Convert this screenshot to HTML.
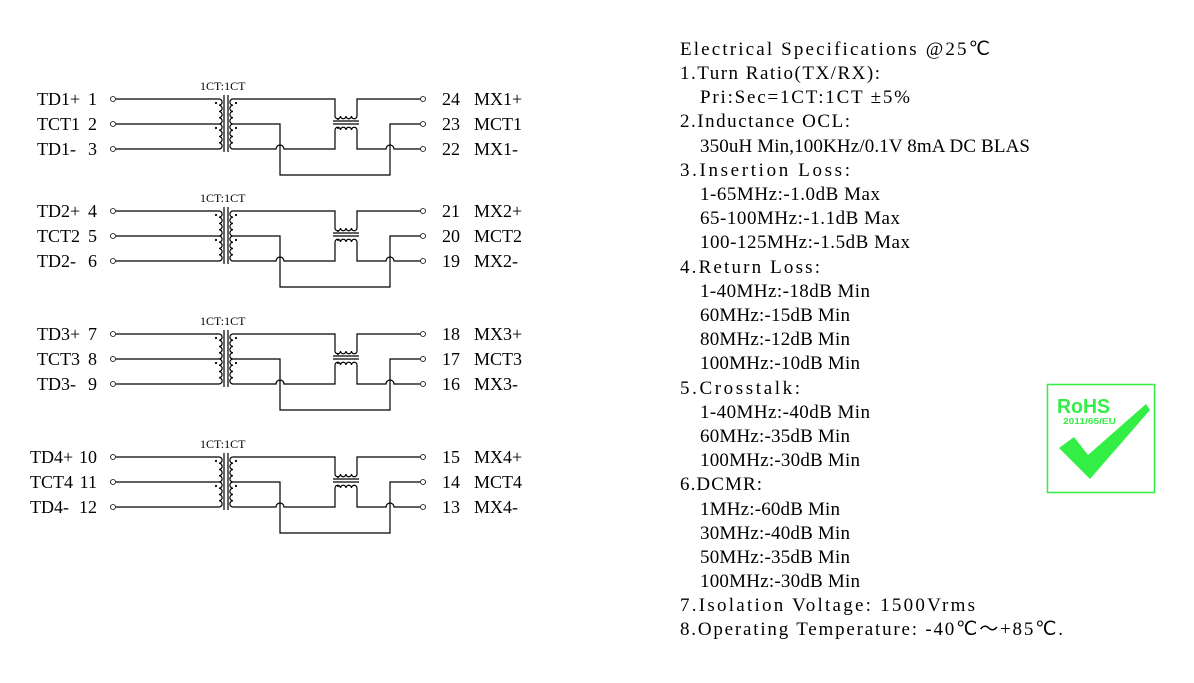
<!DOCTYPE html>
<html><head><meta charset="utf-8"><style>html,body{margin:0;padding:0;background:#fff}svg{display:block}</style></head>
<body>
<svg width="1194" height="683" viewBox="0 0 1194 683" xmlns="http://www.w3.org/2000/svg">
<defs>
<g id="blk" fill="none" stroke="#000" stroke-width="1.2">
  <circle cx="113" cy="0" r="2.5" stroke-width="0.8"/>
  <circle cx="113" cy="25" r="2.5" stroke-width="0.8"/>
  <circle cx="113" cy="50" r="2.5" stroke-width="0.8"/>
  <circle cx="423" cy="0" r="2.5" stroke-width="0.8"/>
  <circle cx="423" cy="25" r="2.5" stroke-width="0.8"/>
  <circle cx="423" cy="50" r="2.5" stroke-width="0.8"/>
  <path d="M116,0H219M116,25H219M116,50H219"/>
  <path d="M219,0 a3.125,3.125 0 0 1 0,6.25 a3.125,3.125 0 0 1 0,6.25 a3.125,3.125 0 0 1 0,6.25 a3.125,3.125 0 0 1 0,6.25 a3.125,3.125 0 0 1 0,6.25 a3.125,3.125 0 0 1 0,6.25 a3.125,3.125 0 0 1 0,6.25 a3.125,3.125 0 0 1 0,6.25"/>
  <path d="M224,-4V53M228,-4V53"/>
  <path d="M233,0 a3.125,3.125 0 0 0 0,6.25 a3.125,3.125 0 0 0 0,6.25 a3.125,3.125 0 0 0 0,6.25 a3.125,3.125 0 0 0 0,6.25 a3.125,3.125 0 0 0 0,6.25 a3.125,3.125 0 0 0 0,6.25 a3.125,3.125 0 0 0 0,6.25 a3.125,3.125 0 0 0 0,6.25"/>
  <path d="M233,0H335V17 a2.75,2.75 0 0 0 5.5,0 a2.75,2.75 0 0 0 5.5,0 a2.75,2.75 0 0 0 5.5,0 a2.75,2.75 0 0 0 5.5,0 V0H420"/>
  <path d="M333,22H359M333,25H359"/>
  <path d="M233,50H276 a4,4 0 0 1 8,0 H335V31 a2.75,2.75 0 0 1 5.5,0 a2.75,2.75 0 0 1 5.5,0 a2.75,2.75 0 0 1 5.5,0 a2.75,2.75 0 0 1 5.5,0 V50H386 a4,4 0 0 1 8,0 H420"/>
  <path d="M233,25H280V76H390V25H420"/>
  <g fill="#000" stroke="none">
    <circle cx="216" cy="4" r="1.1"/><circle cx="236" cy="4" r="1.1"/>
    <circle cx="216" cy="29" r="1.1"/><circle cx="236" cy="29" r="1.1"/>
    <circle cx="338" cy="20" r="1"/><circle cx="338" cy="29" r="1"/>
  </g>
</g>
</defs>
<use href="#blk" y="99"/>
<use href="#blk" y="211"/>
<use href="#blk" y="334"/>
<use href="#blk" y="457"/>
<g font-family="Liberation Serif, serif" fill="#000">
  <g font-size="12"><text x="200" y="90">1CT:1CT</text><text x="200" y="202">1CT:1CT</text><text x="200" y="325">1CT:1CT</text><text x="200" y="448">1CT:1CT</text></g>
  <g font-size="18">
    <text x="37" y="105">TD1+</text><text x="97" y="105" text-anchor="end">1</text>
    <text x="37" y="130">TCT1</text><text x="97" y="130" text-anchor="end">2</text>
    <text x="37" y="155">TD1-</text><text x="97" y="155" text-anchor="end">3</text>
    <text x="37" y="217">TD2+</text><text x="97" y="217" text-anchor="end">4</text>
    <text x="37" y="242">TCT2</text><text x="97" y="242" text-anchor="end">5</text>
    <text x="37" y="267">TD2-</text><text x="97" y="267" text-anchor="end">6</text>
    <text x="37" y="340">TD3+</text><text x="97" y="340" text-anchor="end">7</text>
    <text x="37" y="365">TCT3</text><text x="97" y="365" text-anchor="end">8</text>
    <text x="37" y="390">TD3-</text><text x="97" y="390" text-anchor="end">9</text>
    <text x="30" y="463">TD4+</text><text x="97" y="463" text-anchor="end">10</text>
    <text x="30" y="488">TCT4</text><text x="97" y="488" text-anchor="end">11</text>
    <text x="30" y="513">TD4-</text><text x="97" y="513" text-anchor="end">12</text>
    <text x="442" y="105">24</text><text x="474" y="105">MX1+</text>
    <text x="442" y="130">23</text><text x="474" y="130">MCT1</text>
    <text x="442" y="155">22</text><text x="474" y="155">MX1-</text>
    <text x="442" y="217">21</text><text x="474" y="217">MX2+</text>
    <text x="442" y="242">20</text><text x="474" y="242">MCT2</text>
    <text x="442" y="267">19</text><text x="474" y="267">MX2-</text>
    <text x="442" y="340">18</text><text x="474" y="340">MX3+</text>
    <text x="442" y="365">17</text><text x="474" y="365">MCT3</text>
    <text x="442" y="390">16</text><text x="474" y="390">MX3-</text>
    <text x="442" y="463">15</text><text x="474" y="463">MX4+</text>
    <text x="442" y="488">14</text><text x="474" y="488">MCT4</text>
    <text x="442" y="513">13</text><text x="474" y="513">MX4-</text>
  </g>
  <g font-size="19">
    <text x="680" y="55" textLength="310" lengthAdjust="spacing">Electrical Specifications @25℃</text>
    <text x="680" y="79" textLength="200" lengthAdjust="spacing">1.Turn Ratio(TX/RX):</text>
    <text x="700" y="103" textLength="210" lengthAdjust="spacing">Pri:Sec=1CT:1CT ±5%</text>
    <text x="680" y="127" textLength="170" lengthAdjust="spacing">2.Inductance OCL:</text>
    <text x="700" y="152" textLength="330" lengthAdjust="spacing">350uH Min,100KHz/0.1V 8mA DC BLAS</text>
    <text x="680" y="176" textLength="170" lengthAdjust="spacing">3.Insertion Loss:</text>
    <text x="700" y="200" textLength="180" lengthAdjust="spacing">1-65MHz:-1.0dB Max</text>
    <text x="700" y="224" textLength="200" lengthAdjust="spacing">65-100MHz:-1.1dB Max</text>
    <text x="700" y="248" textLength="210" lengthAdjust="spacing">100-125MHz:-1.5dB Max</text>
    <text x="680" y="273" textLength="140" lengthAdjust="spacing">4.Return Loss:</text>
    <text x="700" y="297" textLength="170" lengthAdjust="spacing">1-40MHz:-18dB Min</text>
    <text x="700" y="321" textLength="150" lengthAdjust="spacing">60MHz:-15dB Min</text>
    <text x="700" y="345" textLength="150" lengthAdjust="spacing">80MHz:-12dB Min</text>
    <text x="700" y="369" textLength="160" lengthAdjust="spacing">100MHz:-10dB Min</text>
    <text x="680" y="394" textLength="120" lengthAdjust="spacing">5.Crosstalk:</text>
    <text x="700" y="418" textLength="170" lengthAdjust="spacing">1-40MHz:-40dB Min</text>
    <text x="700" y="442" textLength="150" lengthAdjust="spacing">60MHz:-35dB Min</text>
    <text x="700" y="466" textLength="160" lengthAdjust="spacing">100MHz:-30dB Min</text>
    <text x="680" y="490" textLength="82" lengthAdjust="spacing">6.DCMR:</text>
    <text x="700" y="515" textLength="140" lengthAdjust="spacing">1MHz:-60dB Min</text>
    <text x="700" y="539" textLength="150" lengthAdjust="spacing">30MHz:-40dB Min</text>
    <text x="700" y="563" textLength="150" lengthAdjust="spacing">50MHz:-35dB Min</text>
    <text x="700" y="587" textLength="160" lengthAdjust="spacing">100MHz:-30dB Min</text>
    <text x="680" y="611" textLength="295" lengthAdjust="spacing">7.Isolation Voltage: 1500Vrms</text>
    <text x="680" y="635" textLength="383" lengthAdjust="spacing">8.Operating Temperature: -40℃～+85℃.</text>
  </g>
</g>
<rect x="1047.5" y="384.5" width="107" height="108" fill="#fff" stroke="#33ee44" stroke-width="1.5"/>
<text x="1057" y="413" font-family="Liberation Sans, sans-serif" font-weight="bold" font-size="20" fill="#33ee44" textLength="53" lengthAdjust="spacingAndGlyphs">RoHS</text>
<text x="1063" y="424" font-family="Liberation Sans, sans-serif" font-weight="bold" font-size="8" fill="#33ee44" textLength="53" lengthAdjust="spacingAndGlyphs">2011/65/EU</text>
<polygon points="1059,448 1074,437 1088,455 1146,404 1150,410 1090,479" fill="#33ee44"/>
</svg>
</body></html>
